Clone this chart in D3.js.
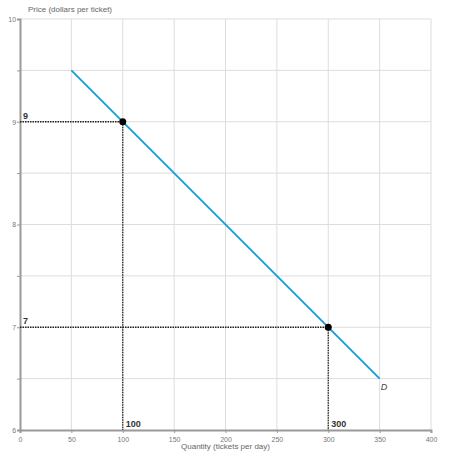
<!DOCTYPE html>
<html>
<head>
<meta charset="utf-8">
<script src="https://d3js.org/d3.v7.min.js"></script>
<style>
body{margin:0;background:#fff;}
svg text{font-family:Arial,"Liberation Sans",sans-serif;}
</style>
</head>
<body>
<div id="chart"></div>
<script>
// demand curve data
var demandQ = [50, 350];
var demandP = [9.5, 6.5];
var pointQ = [100, 300];
var pointP = [9, 7];
var xTicks = [0, 50, 100, 150, 200, 250, 300, 350, 400];
var yTicks = [6, 7, 8, 9, 10];
var yGrid = [6, 6.5, 7, 7.5, 8, 8.5, 9, 9.5, 10];

var width = 474, height = 455;
var margin = {left: 20, right: 43, top: 19, bottom: 25};

var svg = d3.select("#chart").append("svg").attr("width", width).attr("height", height);

var x = d3.scaleLinear().domain([0, 400]).range([margin.left, width - margin.right]);
var y = d3.scaleLinear().domain([6, 10]).range([height - margin.bottom, margin.top]);

// grid
svg.append("g").selectAll("line").data(xTicks.slice(1)).enter().append("line")
	.attr("x1", function(d){return x(d);}).attr("x2", function(d){return x(d);})
	.attr("y1", y(6)).attr("y2", y(10))
	.attr("stroke", "#ddd").attr("stroke-width", 1);
svg.append("g").selectAll("line").data(yGrid.slice(1)).enter().append("line")
	.attr("x1", x(0)).attr("x2", x(400))
	.attr("y1", function(d){return y(d);}).attr("y2", function(d){return y(d);})
	.attr("stroke", "#ddd").attr("stroke-width", 1);

// axes
var xAxis = svg.append("g").attr("transform", "translate(0," + y(6) + ")")
	.call(d3.axisBottom(x).tickValues(xTicks).tickSize(3).tickFormat(d3.format("d")));
var yAxis = svg.append("g").attr("transform", "translate(" + x(0) + ",0)")
	.call(d3.axisLeft(y).tickValues(yGrid).tickSize(3)
		.tickFormat(function(d){ return yTicks.indexOf(d) >= 0 ? d : ""; }));
[xAxis, yAxis].forEach(function(a){
	a.select(".domain").attr("stroke", "#999").attr("stroke-width", 2);
	a.selectAll(".tick line").attr("stroke", "#999");
	a.selectAll(".tick text").attr("fill", "#777").style("font-size", "7px");
});
xAxis.selectAll(".tick text").attr("dy", "0.9em");
yAxis.selectAll(".tick text").attr("dx", "0.3em");

// axis titles
svg.append("text").attr("x", x(0) + 8).attr("y", 12)
	.attr("fill", "#666").style("font-size", "8px").text("Price (dollars per ticket)");
svg.append("text").attr("x", x(200)).attr("y", height - 6).attr("text-anchor", "middle")
	.attr("fill", "#666").style("font-size", "8px").text("Quantity (tickets per day)");

// dotted guide lines
pointQ.forEach(function(q, i){
	var p = pointP[i];
	svg.append("line").attr("x1", x(0)).attr("x2", x(q)).attr("y1", y(p)).attr("y2", y(p))
		.attr("stroke", "#222").attr("stroke-width", 1.3).attr("stroke-dasharray", "1.5,1");
	svg.append("line").attr("x1", x(q)).attr("x2", x(q)).attr("y1", y(p)).attr("y2", y(6))
		.attr("stroke", "#222").attr("stroke-width", 1.3).attr("stroke-dasharray", "1.5,1");
	svg.append("text").attr("x", x(0) + 3).attr("y", y(p) - 3)
		.attr("fill", "#333").style("font-size", "9px").style("font-weight", "bold").text(p);
	svg.append("text").attr("x", x(q) + 3).attr("y", y(6) - 3)
		.attr("fill", "#333").style("font-size", "9px").style("font-weight", "bold").text(q);
});

// demand line
var line = d3.line().x(function(d){return x(d[0]);}).y(function(d){return y(d[1]);});
svg.append("path").datum(d3.zip(demandQ, demandP))
	.attr("fill", "none").attr("stroke", "#1a9fd9").attr("stroke-width", 2).attr("d", line);

svg.selectAll(".pt").data(d3.zip(pointQ, pointP)).enter().append("circle")
	.attr("cx", function(d){return x(d[0]);}).attr("cy", function(d){return y(d[1]);})
	.attr("r", 3.5).attr("fill", "#000");

svg.append("text").attr("x", x(350) + 1).attr("y", y(6.5) + 11)
	.attr("fill", "#444").style("font-size", "9px").style("font-style", "italic").text("D");
</script>
</body>
</html>
